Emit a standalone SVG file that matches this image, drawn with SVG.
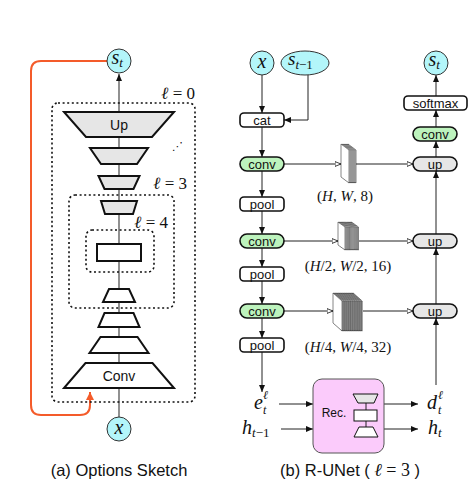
<svg xmlns="http://www.w3.org/2000/svg" xmlns:xlink="http://www.w3.org/1999/xlink" width="470" height="484" viewBox="0 0 470 484">
<style>
.sans{font-family:"Liberation Sans","Arial",sans-serif;fill:#111}
.math{font-family:"Liberation Serif","DejaVu Serif",serif;fill:#111}
.it{font-style:italic}
.lbl{font-size:13px;text-anchor:middle}
.trap{stroke:#111;stroke-width:2;stroke-linejoin:miter}
.gray{fill:#e6e6e6}
.white{fill:#fff}
.dot{fill:none;stroke:#111;stroke-width:1.6;stroke-dasharray:2 2.6}
.circ{fill:#b3f6fa;stroke:#333;stroke-width:1}
.box{stroke:#111;stroke-width:1.6}
.line{fill:none;stroke:#222;stroke-width:1}
.sl{fill:#fff;stroke:#222;stroke-width:0.55}
</style>
<defs>
<marker id="ah" viewBox="0 0 7 6" refX="7" refY="3" markerWidth="7" markerHeight="6" markerUnits="userSpaceOnUse" orient="auto"><path d="M0,0 L7,3 L0,6 z" fill="#111"/></marker>
<marker id="oh" viewBox="0 0 7 6" refX="6.5" refY="3" markerWidth="7" markerHeight="6" markerUnits="userSpaceOnUse" orient="auto"><path d="M0.5,0.6 L6.5,3 L0.5,5.4 z" fill="#fff" stroke="#111" stroke-width="0.8"/></marker>
<marker id="orh" viewBox="0 0 8 8" refX="8" refY="4" markerWidth="8" markerHeight="8" markerUnits="userSpaceOnUse" orient="auto"><path d="M0,0 L8,4 L0,8 z" fill="#f45b2a"/></marker>
<polygon id="s1" class="sl" points="0,0 8,6 8,39 0,33"/>
<polygon id="s2" class="sl" points="0,0 7,5 7,28 0,23"/>
<polygon id="s3" class="sl" points="0,0 9,8 9,38 0,30"/>
</defs>

<!-- ===== (a) Options Sketch ===== -->
<g id="connectors-a">
<path d="M107,61 H41 Q31,61 31,71 V405 Q31,415 41,415 H80 Q90,415 90,405 V392" fill="none" stroke="#f45b2a" stroke-width="2" marker-end="url(#orh)"/>
<line x1="119" y1="417" x2="119" y2="74" stroke="#555" stroke-width="1.3" marker-end="url(#ah)"/>
</g>
<g id="box-l0"><rect class="dot" x="52" y="103" width="143" height="299" rx="6"/>
<text class="math" x="195" y="99" font-size="17" text-anchor="end"><tspan class="it">ℓ</tspan> = 0</text></g>
<g id="box-l3"><rect class="dot" x="69" y="195" width="105" height="113" rx="6"/>
<text class="math" x="187" y="189" font-size="17" text-anchor="end"><tspan class="it">ℓ</tspan> = 3</text></g>
<g id="box-l4"><rect class="dot" x="86" y="230" width="68" height="42" rx="6"/>
<text class="math" x="168" y="228" font-size="17" text-anchor="end"><tspan class="it">ℓ</tspan> = 4</text></g>
<text id="dots" x="172" y="150" font-family="DejaVu Sans,sans-serif" font-size="11" fill="#111">⋰</text>
<g id="up"><polygon class="trap gray" points="64,112 174,112 152,137 86,137"/>
<text class="sans" x="119" y="130" font-size="14" text-anchor="middle">Up</text></g>
<g id="dec2"><polygon class="trap gray" points="90,148 148,148 137,164 101,164"/></g>
<g id="dec3"><polygon class="trap gray" points="98.5,176 139.5,176 133.5,189 104.5,189"/></g>
<g id="dec4"><polygon class="trap gray" points="101,201 137,201 133,214 105,214"/></g>
<g id="bottleneck"><rect class="trap white" x="97" y="244" width="44" height="17"/></g>
<g id="enc4"><polygon class="trap white" points="109,289 129,289 135,302 103,302"/></g>
<g id="enc3"><polygon class="trap white" points="104.5,313 133.5,313 139.5,327 98.5,327"/></g>
<g id="enc2"><polygon class="trap white" points="100.5,337 137.5,337 148.5,353 89.5,353"/></g>
<g id="conv-a"><polygon class="trap white" points="85.5,363 152.5,363 174,388 64,388"/>
<text class="sans" x="119" y="381" font-size="14" text-anchor="middle">Conv</text></g>
<g id="st-a"><circle class="circ" cx="119" cy="61" r="12"/>
<text class="math it" x="111.5" y="64" font-size="20">s<tspan font-size="13" dy="3">t</tspan></text></g>
<g id="x-a"><circle class="circ" cx="119" cy="429" r="12"/>
<text class="math it" x="119" y="433.5" font-size="20" text-anchor="middle">x</text></g>
<text class="sans" x="119" y="476" font-size="16.5" text-anchor="middle">(a) Options Sketch</text>

<!-- ===== (b) R-UNet ===== -->
<g id="connectors-b">
<line class="line" x1="262" y1="75" x2="262" y2="113" marker-end="url(#ah)"/>
<path class="line" d="M308,75 V120 H284" marker-end="url(#ah)"/>
<line class="line" x1="262" y1="127" x2="262" y2="157" marker-end="url(#ah)"/>
<line class="line" x1="262" y1="171" x2="262" y2="197" marker-end="url(#ah)"/>
<line class="line" x1="262" y1="211" x2="262" y2="234" marker-end="url(#ah)"/>
<line class="line" x1="262" y1="248" x2="262" y2="267" marker-end="url(#ah)"/>
<line class="line" x1="262" y1="281" x2="262" y2="304" marker-end="url(#ah)"/>
<line class="line" x1="262" y1="318" x2="262" y2="338" marker-end="url(#ah)"/>
<line class="line" x1="262" y1="352" x2="262" y2="392" marker-end="url(#ah)"/>
<line class="line" x1="284" y1="164" x2="341" y2="164" marker-end="url(#oh)"/>
<line class="line" x1="356" y1="164" x2="413" y2="164" marker-end="url(#oh)"/>
<line class="line" x1="284" y1="241" x2="338" y2="241" marker-end="url(#oh)"/>
<line class="line" x1="359" y1="241" x2="413" y2="241" marker-end="url(#oh)"/>
<line class="line" x1="284" y1="311" x2="333" y2="311" marker-end="url(#oh)"/>
<line class="line" x1="363" y1="311" x2="413" y2="311" marker-end="url(#oh)"/>
<line class="line" x1="436" y1="385" x2="436" y2="318" marker-end="url(#ah)"/>
<line class="line" x1="436" y1="304" x2="436" y2="248" marker-end="url(#ah)"/>
<line class="line" x1="436" y1="234" x2="436" y2="171" marker-end="url(#ah)"/>
<line class="line" x1="436" y1="157" x2="436" y2="141" marker-end="url(#ah)"/>
<line class="line" x1="436" y1="127" x2="436" y2="110" marker-end="url(#ah)"/>
<line class="line" x1="436" y1="96" x2="436" y2="75" marker-end="url(#ah)"/>
<line class="line" x1="279" y1="404" x2="313" y2="404" marker-end="url(#ah)"/>
<line class="line" x1="281" y1="429" x2="313" y2="429" marker-end="url(#ah)"/>
<line class="line" x1="384" y1="404" x2="418" y2="404" marker-end="url(#ah)"/>
<line class="line" x1="384" y1="429" x2="418" y2="429" marker-end="url(#ah)"/>
</g>

<g id="x-b"><circle class="circ" cx="262" cy="63" r="12"/>
<text class="math it" x="262" y="67.5" font-size="20" text-anchor="middle">x</text></g>
<g id="stm1"><ellipse class="circ" cx="305" cy="63" rx="24" ry="12"/>
<text class="math it" x="288" y="65" font-size="19">s<tspan font-size="13" dy="4">t</tspan><tspan font-size="13" font-style="normal">−1</tspan></text></g>
<g id="cat"><rect class="box white" x="240" y="113" width="44" height="14" rx="4"/>
<text class="sans lbl" x="262" y="124.5">cat</text></g>
<g id="conv1"><rect class="box" fill="#bdf3bd" x="240" y="157" width="44" height="14" rx="7"/>
<text class="sans lbl" x="262" y="168.5">conv</text></g>
<g id="pool1"><rect class="box white" x="240" y="197" width="44" height="14" rx="4"/>
<text class="sans lbl" x="262" y="208.5">pool</text></g>
<g id="conv2"><rect class="box" fill="#bdf3bd" x="240" y="234" width="44" height="14" rx="7"/>
<text class="sans lbl" x="262" y="245.5">conv</text></g>
<g id="pool2"><rect class="box white" x="240" y="267" width="44" height="14" rx="4"/>
<text class="sans lbl" x="262" y="278.5">pool</text></g>
<g id="conv3"><rect class="box" fill="#bdf3bd" x="240" y="304" width="44" height="14" rx="7"/>
<text class="sans lbl" x="262" y="315.5">conv</text></g>
<g id="pool3"><rect class="box white" x="240" y="338" width="44" height="14" rx="4"/>
<text class="sans lbl" x="262" y="349.5">pool</text></g>

<g id="fmap1">
<use xlink:href="#s1" x="348" y="144"/><use xlink:href="#s1" x="347" y="144"/><use xlink:href="#s1" x="346" y="144"/><use xlink:href="#s1" x="345" y="144"/>
<use xlink:href="#s1" x="344" y="144"/><use xlink:href="#s1" x="343" y="144"/><use xlink:href="#s1" x="342" y="144"/><use xlink:href="#s1" x="341" y="144"/>
<text class="math" x="345" y="201" font-size="15" text-anchor="middle">(<tspan class="it">H</tspan>, <tspan class="it">W</tspan>, 8)</text>
</g>
<g id="fmap2">
<use xlink:href="#s2" x="351.5" y="222"/><use xlink:href="#s2" x="350.6" y="222"/><use xlink:href="#s2" x="349.7" y="222"/><use xlink:href="#s2" x="348.8" y="222"/>
<use xlink:href="#s2" x="347.9" y="222"/><use xlink:href="#s2" x="347" y="222"/><use xlink:href="#s2" x="346.1" y="222"/><use xlink:href="#s2" x="345.2" y="222"/>
<use xlink:href="#s2" x="344.3" y="222"/><use xlink:href="#s2" x="343.4" y="222"/><use xlink:href="#s2" x="342.5" y="222"/><use xlink:href="#s2" x="341.6" y="222"/>
<use xlink:href="#s2" x="340.7" y="222"/><use xlink:href="#s2" x="339.8" y="222"/><use xlink:href="#s2" x="338.9" y="222"/><use xlink:href="#s2" x="338" y="222"/>
<text class="math" x="348" y="271" font-size="15" text-anchor="middle">(<tspan class="it">H</tspan>/2, <tspan class="it">W</tspan>/2, 16)</text>
</g>
<g id="fmap3">
<use xlink:href="#s3" x="353.2" y="293"/><use xlink:href="#s3" x="352.55" y="293"/><use xlink:href="#s3" x="351.9" y="293"/><use xlink:href="#s3" x="351.25" y="293"/>
<use xlink:href="#s3" x="350.6" y="293"/><use xlink:href="#s3" x="349.95" y="293"/><use xlink:href="#s3" x="349.3" y="293"/><use xlink:href="#s3" x="348.65" y="293"/>
<use xlink:href="#s3" x="348" y="293"/><use xlink:href="#s3" x="347.35" y="293"/><use xlink:href="#s3" x="346.7" y="293"/><use xlink:href="#s3" x="346.05" y="293"/>
<use xlink:href="#s3" x="345.4" y="293"/><use xlink:href="#s3" x="344.75" y="293"/><use xlink:href="#s3" x="344.1" y="293"/><use xlink:href="#s3" x="343.45" y="293"/>
<use xlink:href="#s3" x="342.8" y="293"/><use xlink:href="#s3" x="342.15" y="293"/><use xlink:href="#s3" x="341.5" y="293"/><use xlink:href="#s3" x="340.85" y="293"/>
<use xlink:href="#s3" x="340.2" y="293"/><use xlink:href="#s3" x="339.55" y="293"/><use xlink:href="#s3" x="338.9" y="293"/><use xlink:href="#s3" x="338.25" y="293"/>
<use xlink:href="#s3" x="337.6" y="293"/><use xlink:href="#s3" x="336.95" y="293"/><use xlink:href="#s3" x="336.3" y="293"/><use xlink:href="#s3" x="335.65" y="293"/>
<use xlink:href="#s3" x="335" y="293"/><use xlink:href="#s3" x="334.35" y="293"/><use xlink:href="#s3" x="333.7" y="293"/><use xlink:href="#s3" x="333" y="293"/>
<text class="math" x="348" y="352" font-size="15" text-anchor="middle">(<tspan class="it">H</tspan>/4, <tspan class="it">W</tspan>/4, 32)</text>
</g>

<g id="st-b"><circle class="circ" cx="436" cy="63" r="12"/>
<text class="math it" x="428.5" y="66" font-size="20">s<tspan font-size="13" dy="3">t</tspan></text></g>
<g id="softmax"><rect class="box white" x="404" y="96" width="63" height="14" rx="4"/>
<text class="sans lbl" x="435.5" y="107.5">softmax</text></g>
<g id="conv-out"><rect class="box" fill="#bdf3bd" x="413" y="127" width="44" height="14" rx="7"/>
<text class="sans lbl" x="435" y="138.5">conv</text></g>
<g id="up1"><rect class="box gray" x="413" y="157" width="44" height="14" rx="7"/>
<text class="sans lbl" x="435" y="168.5">up</text></g>
<g id="up2"><rect class="box gray" x="413" y="234" width="44" height="14" rx="7"/>
<text class="sans lbl" x="435" y="245.5">up</text></g>
<g id="up3"><rect class="box gray" x="413" y="304" width="44" height="14" rx="7"/>
<text class="sans lbl" x="435" y="315.5">up</text></g>

<g id="rec">
<rect x="313" y="379" width="71" height="74" rx="9" fill="#fbcbfb" stroke="#555" stroke-width="1"/>
<line x1="366" y1="403" x2="366" y2="427" stroke="#222" stroke-width="1"/>
<polygon points="353,394 378,394 374,403 358,403" fill="#e6e6e6" stroke="#111" stroke-width="1"/>
<rect x="354" y="410" width="23" height="11" fill="#fff" stroke="#111" stroke-width="1"/>
<polygon points="359,427 373,427 378,437 354,437" fill="#fff" stroke="#111" stroke-width="1"/>
<text class="sans" x="334" y="417" font-size="12" text-anchor="middle">Rec.</text>
</g>
<g id="et"><text class="math it" x="254" y="409" font-size="20">e</text>
<text class="math it" x="263" y="399" font-size="12">ℓ</text>
<text class="math it" x="263" y="414" font-size="12">t</text></g>
<g id="htm1"><text class="math it" x="242" y="434" font-size="20">h<tspan font-size="13" dy="3">t</tspan><tspan font-size="13" font-style="normal">−1</tspan></text></g>
<g id="dt"><text class="math it" x="427" y="409" font-size="20">d</text>
<text class="math it" x="438" y="399" font-size="12">ℓ</text>
<text class="math it" x="438" y="414" font-size="12">t</text></g>
<g id="ht"><text class="math it" x="428" y="434" font-size="20">h<tspan font-size="13" dy="3">t</tspan></text></g>

<text class="sans" x="350" y="476" font-size="16.5" text-anchor="middle">(b) R-UNet (<tspan class="math it" font-size="18"> ℓ</tspan><tspan class="math" font-size="18"> = 3 </tspan>)</text>
</svg>
